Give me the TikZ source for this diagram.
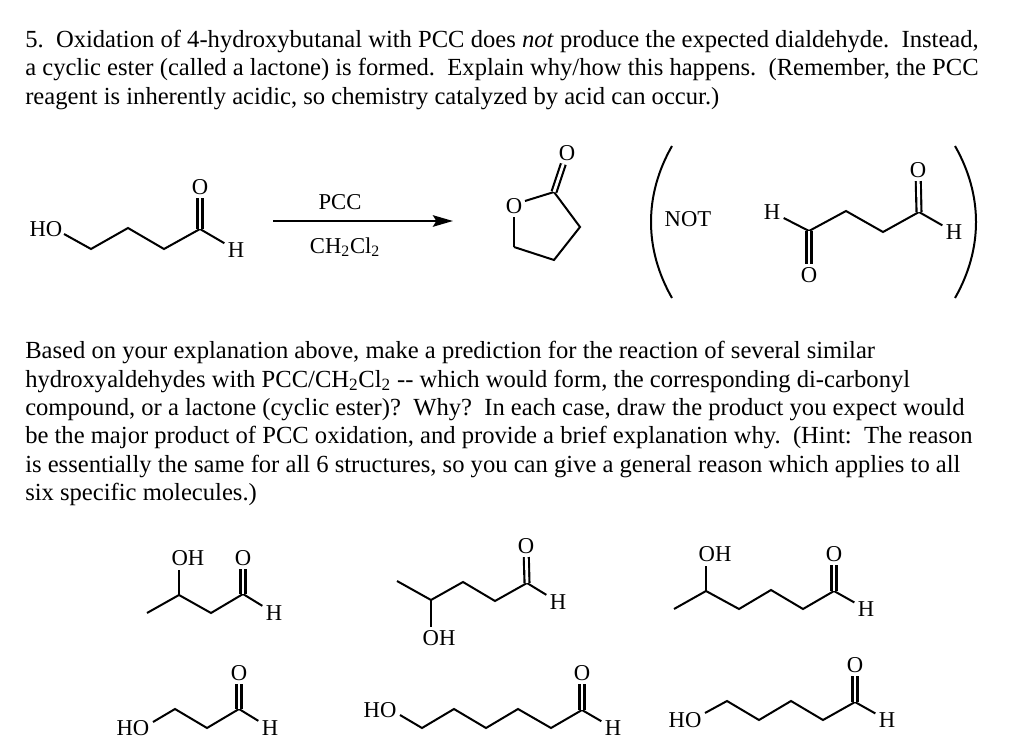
\documentclass[tikz,border=0pt]{standalone}
\usepackage{fontspec}
\setmainfont{Liberation Serif}
\usetikzlibrary{arrows.meta}

\tikzset{
    line/.style = {anchor = base west, inner sep = 0pt, font = \fontsize{18.45}{20}\selectfont},
    atom/.style = {inner sep = 2.4pt, font = \fontsize{17}{20}\selectfont},
    bond/.style = {black, line width = 1.5pt, line join = miter},
    dblbond/.style = {black, double, line width = 1.6pt, double distance = 2.1pt},
}

\begin{document}
\begin{tikzpicture}[x = .75pt, y = -.75pt, >= {Stealth[length = 15pt, width = 8.5pt, inset = 2.5pt]}]
    \useasboundingbox (0, 0) rectangle (1024, 745);

    \node [line] (q1) at (25, 48) {5.\ \ Oxidation of 4-hydroxybutanal with PCC does \textit{not} produce the expected dialdehyde.\ \ Instead,};
    \node [line] (q2) at (25, 76) {a cyclic ester (called a lactone) is formed.\ \ Explain why/how this happens.\ \ (Remember, the PCC};
    \node [line] (q3) at (25, 105) {reagent is inherently acidic, so chemistry catalyzed by acid can occur.)};

    \node [line] (p1) at (25, 358) {Based on your explanation above, make a prediction for the reaction of several similar};
    \node [line] (p2) at (25, 387) {hydroxyaldehydes with PCC/CH\textsubscript{2}Cl\textsubscript{2} -{}- which would form, the corresponding di-carbonyl};
    \node [line] (p3) at (25, 415) {compound, or a lactone (cyclic ester)?\ \ Why?\ \ In each case, draw the product you expect would};
    \node [line] (p4) at (25, 443) {be the major product of PCC oxidation, and provide a brief explanation why.\ \ (Hint:\ \ The reason};
    \node [line] (p5) at (25, 472) {is essentially the same for all 6 structures, so you can give a general reason which applies to all};
    \node [line] (p6) at (25, 500) {six specific molecules.)};

    %%%%%%%%%%%%%%%%%%%% starting material
    \node [atom] (ho) at (46, 229) {HO};
    \node [atom] (oa) at (200, 187) {O};
    \node [atom] (ha) at (236, 250) {H};
    \coordinate (a0) at (64, 234);
    \coordinate (a1) at (91, 249);
    \coordinate (a2) at (128, 228);
    \coordinate (a3) at (164, 249);
    \coordinate (a4) at (200, 229);
    \draw [bond] (a0) -- (a1) -- (a2) -- (a3) -- (a4) -- (ha);
    \draw [dblbond] (a4) -- (oa);

    %%%%%%%%%%%%%%%%%%%% reaction arrow
    \coordinate (rl) at (273, 221);
    \coordinate (rr) at (453, 221);
    \draw [line width = 2.1pt, ->] (rl) -- (rr);
    \node [atom] (pcc) at (340, 202) {PCC};
    \node [atom] (dcm) at (345, 247) {CH\textsubscript{2}Cl\textsubscript{2}};

    %%%%%%%%%%%%%%%%%%%% lactone
    \node [atom] (or) at (514, 206) {O};
    \node [atom] (ol) at (567, 153) {O};
    \coordinate (l0) at (525, 201);
    \coordinate (l1) at (554, 192);
    \coordinate (l2) at (580, 227);
    \coordinate (l3) at (554, 260);
    \coordinate (l4) at (514, 247);
    \coordinate (l5) at (514, 217);
    \draw [bond] (l0) -- (l1) -- (l2) -- (l3) -- (l4);
    \draw [bond, line width = 2pt] (l4) -- (l5);
    \draw [dblbond] (l1) -- (ol);

    %%%%%%%%%%%%%%%%%%%% brackets
    \coordinate (pl0) at (672, 146);
    \coordinate (pl1) at (672, 298);
    \coordinate (pr0) at (955, 146);
    \coordinate (pr1) at (955, 298);
    \draw [bond] (pl0) .. controls (644, 195) and (644, 249) .. (pl1);
    \draw [bond] (pr0) .. controls (983, 195) and (983, 249) .. (pr1);
    \node [atom] (no) at (688, 219) {NOT};

    \node [atom] (hb) at (772, 212) {H};
    \node [atom] (hc) at (954, 232) {H};
    \node [atom] (ob) at (809, 275) {O};
    \node [atom] (oc) at (918, 170) {O};
    \coordinate (b1) at (809, 231);
    \coordinate (b2) at (846, 211);
    \coordinate (b3) at (883, 232);
    \coordinate (b4) at (919, 212);
    \draw [bond] (hb) -- (b1) -- (b2) -- (b3) -- (b4) -- (hc);
    \draw [dblbond] (b1) -- (ob);
    \draw [dblbond] (b4) -- (oc);

    %%%%%%%%%%%%%%%%%%%% six molecules, top row
    \node [atom] (oh1) at (188, 558) {OH};
    \node [atom] (o1) at (243, 558) {O};
    \node [atom] (h1) at (274, 613) {H};
    \coordinate (c0) at (147, 613);
    \coordinate (c1) at (179, 595);
    \coordinate (c2) at (211, 613);
    \coordinate (c3) at (243, 594);
    \coordinate (c4) at (179, 570);
    \draw [bond] (c0) -- (c1) -- (c2) -- (c3) -- (h1);
    \draw [bond, line width = 2pt] (c1) -- (c4);
    \draw [dblbond] (c3) -- (o1);

    \node [atom] (oh2) at (439, 638) {OH};
    \node [atom] (o2) at (526, 546) {O};
    \node [atom] (h2) at (558, 602) {H};
    \coordinate (d0) at (397, 581);
    \coordinate (d1) at (431, 600);
    \coordinate (d2) at (463, 582);
    \coordinate (d3) at (495, 601);
    \coordinate (d4) at (527, 583);
    \coordinate (d5) at (431, 627);
    \draw [bond] (d0) -- (d1) -- (d2) -- (d3) -- (d4) -- (h2);
    \draw [bond] (d1) -- (d5);
    \draw [dblbond] (d4) -- (o2);

    \node [atom] (oh3) at (715, 554) {OH};
    \node [atom] (o3) at (834, 554) {O};
    \node [atom] (h3) at (866, 609) {H};
    \coordinate (e0) at (674, 609);
    \coordinate (e1) at (706, 591);
    \coordinate (e2) at (739, 609);
    \coordinate (e3) at (771, 590);
    \coordinate (e4) at (803, 609);
    \coordinate (e5) at (834, 591);
    \coordinate (e6) at (706, 566);
    \draw [bond] (e0) -- (e1) -- (e2) -- (e3) -- (e4) -- (e5) -- (h3);
    \draw [bond, line width = 2pt] (e1) -- (e6);
    \draw [dblbond] (e5) -- (o3);

    %%%%%%%%%%%%%%%%%%%% six molecules, bottom row
    \node [atom] (ho4) at (133, 728) {HO};
    \node [atom] (o4) at (239, 673) {O};
    \node [atom] (h4) at (270, 728) {H};
    \coordinate (f0) at (153, 722);
    \coordinate (f1) at (175, 709);
    \coordinate (f2) at (207, 728);
    \coordinate (f3) at (239, 709);
    \draw [bond] (f0) -- (f1) -- (f2) -- (f3) -- (h4);
    \draw [dblbond] (f3) -- (o4);

    \node [atom] (ho5) at (380, 710) {HO};
    \node [atom] (o5) at (582, 673) {O};
    \node [atom] (h5) at (613, 728) {H};
    \coordinate (g0) at (400, 715);
    \coordinate (g1) at (422, 728);
    \coordinate (g2) at (454, 709);
    \coordinate (g3) at (486, 728);
    \coordinate (g4) at (518, 709);
    \coordinate (g5) at (551, 728);
    \coordinate (g6) at (582, 710);
    \draw [bond] (g0) -- (g1) -- (g2) -- (g3) -- (g4) -- (g5) -- (g6) -- (h5);
    \draw [dblbond] (g6) -- (o5);

    \node [atom] (ho6) at (685, 720) {HO};
    \node [atom] (o6) at (855, 665) {O};
    \node [atom] (h6) at (887, 720) {H};
    \coordinate (k0) at (705, 713);
    \coordinate (k1) at (727, 701);
    \coordinate (k2) at (759, 720);
    \coordinate (k3) at (791, 701);
    \coordinate (k4) at (823, 720);
    \coordinate (k5) at (855, 702);
    \draw [bond] (k0) -- (k1) -- (k2) -- (k3) -- (k4) -- (k5) -- (h6);
    \draw [dblbond] (k5) -- (o6);
\end{tikzpicture}
\end{document}
